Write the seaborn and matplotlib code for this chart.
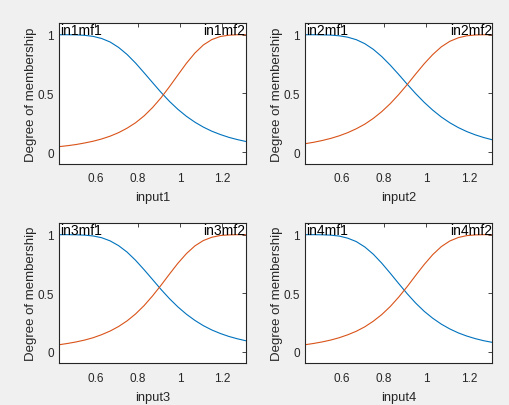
import numpy as np
import pandas as pd
import matplotlib
matplotlib.use("Agg")
import matplotlib.pyplot as plt
import seaborn as sns

# input range shared by all four variables
x_vals = [0.43, 0.47, 0.51, 0.55, 0.59, 0.63, 0.67, 0.71, 0.75, 0.79, 0.83, 0.87,
          0.91, 0.95, 0.99, 1.03, 1.07, 1.11, 1.15, 1.19, 1.23, 1.27, 1.31]

in1mf1 = [1.000, 1.000, 0.999, 0.995, 0.986, 0.968, 0.938, 0.892, 0.832, 0.759, 0.677, 0.593,
          0.510, 0.433, 0.365, 0.306, 0.256, 0.214, 0.179, 0.151, 0.127, 0.108, 0.092]
in1mf2 = [0.048, 0.056, 0.066, 0.079, 0.094, 0.113, 0.137, 0.167, 0.205, 0.251, 0.309, 0.380,
          0.463, 0.558, 0.658, 0.757, 0.844, 0.913, 0.959, 0.985, 0.996, 1.000, 1.000]
in2mf1 = [1.000, 1.000, 0.999, 0.997, 0.991, 0.979, 0.958, 0.924, 0.876, 0.814, 0.741, 0.661,
          0.578, 0.498, 0.424, 0.358, 0.300, 0.251, 0.210, 0.176, 0.148, 0.125, 0.106]
in2mf2 = [0.073, 0.085, 0.100, 0.118, 0.140, 0.167, 0.200, 0.239, 0.288, 0.346, 0.414, 0.492,
          0.577, 0.667, 0.754, 0.832, 0.897, 0.944, 0.974, 0.991, 0.998, 1.000, 1.000]
in3mf1 = [1.000, 1.000, 0.999, 0.996, 0.989, 0.974, 0.947, 0.906, 0.851, 0.781, 0.701, 0.617,
          0.532, 0.453, 0.382, 0.320, 0.267, 0.222, 0.185, 0.155, 0.130, 0.110, 0.093]
in3mf2 = [0.059, 0.070, 0.083, 0.099, 0.119, 0.145, 0.176, 0.215, 0.263, 0.322, 0.393, 0.476,
          0.567, 0.663, 0.756, 0.838, 0.904, 0.950, 0.978, 0.993, 0.998, 1.000, 1.000]
in4mf1 = [1.000, 1.000, 0.999, 0.996, 0.988, 0.970, 0.941, 0.895, 0.833, 0.756, 0.670, 0.581,
          0.494, 0.414, 0.344, 0.285, 0.235, 0.194, 0.160, 0.133, 0.111, 0.093, 0.079]
in4mf2 = [0.059, 0.070, 0.083, 0.099, 0.119, 0.144, 0.174, 0.212, 0.260, 0.317, 0.386, 0.467,
          0.557, 0.653, 0.746, 0.830, 0.898, 0.946, 0.976, 0.992, 0.998, 1.000, 1.000]

inputs = ["input1", "input2", "input3", "input4"]
mf_names = [("in1mf1", "in1mf2"), ("in2mf1", "in2mf2"), ("in3mf1", "in3mf2"), ("in4mf1", "in4mf2")]
mf_values = [(in1mf1, in1mf2), (in2mf1, in2mf2), (in3mf1, in3mf2), (in4mf1, in4mf2)]

x_ticks = [0.6, 0.8, 1.0, 1.2]
x_ticklabels = ["0.6", "0.8", "1", "1.2"]
y_ticks = [0, 0.5, 1]
y_ticklabels = ["0", "0.5", "1"]

sns.set_theme(style="white")
plt.rcParams["font.family"] = ["Liberation Sans", "DejaVu Sans"]

BLUE = "#0072BD"
ORANGE = "#D95319"
DARK = "#262626"

fig = plt.figure(figsize=(5.10, 4.06), dpi=100, facecolor="#F0F0F0")

# axes boxes in figure fractions (left, bottom, width, height)
boxes = [
    (0.1163, 0.5936, 0.3655, 0.3473),
    (0.5986, 0.5936, 0.3667, 0.3473),
    (0.1163, 0.1027, 0.3655, 0.3456),
    (0.5986, 0.1027, 0.3667, 0.3456),
]

for i in range(4):
    ax = fig.add_axes(boxes[i])
    ax.set_facecolor("white")
    n1, n2 = mf_names[i]
    v1, v2 = mf_values[i]
    df = pd.DataFrame({"x": x_vals, n1: v1, n2: v2})
    sns.lineplot(data=df, x="x", y=n1, ax=ax, color=BLUE, linewidth=0.8)
    sns.lineplot(data=df, x="x", y=n2, ax=ax, color=ORANGE, linewidth=0.8)

    ax.set_xlim(x_vals[0], x_vals[-1])
    ax.set_ylim(-0.1, 1.1)
    ax.set_xticks(x_ticks)
    ax.set_xticklabels(x_ticklabels)
    ax.set_yticks(y_ticks)
    ax.set_yticklabels(y_ticklabels)
    ax.tick_params(direction="in", top=True, right=True, length=3, width=0.6,
                   labelsize=8.5, colors=DARK, pad=4)
    ax.tick_params(axis="x", pad=6)
    for sp in ax.spines.values():
        sp.set_color(DARK)
        sp.set_linewidth(0.8)

    ax.set_xlabel(inputs[i], fontsize=9.3, color=DARK, labelpad=5)
    ax.set_ylabel("Degree of membership", fontsize=9.5, color=DARK, labelpad=0.5)

    ax.text(x_vals[0] + 0.005, 1.005, n1, ha="left", va="baseline", fontsize=10, color="black")
    ax.text(x_vals[-1] - 0.002, 1.005, n2, ha="right", va="baseline", fontsize=10, color="black")

fig.savefig("out.png", dpi=100, facecolor=fig.get_facecolor())
